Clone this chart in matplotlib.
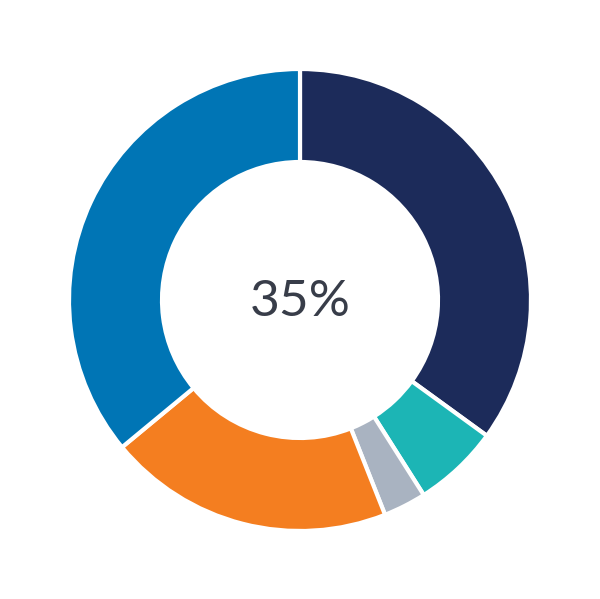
import matplotlib.pyplot as plt

# segment shares, clockwise from 12 o'clock
labels = ['Navy', 'Teal', 'Gray', 'Orange', 'Blue']
shares = [35, 6, 3, 20, 36]
colors = ['#1c2b5a', '#1cb5b5', '#a9b3c1', '#f47e20', '#0075b5']
center_label = '35%'

fig = plt.figure(figsize=(6.0, 5.99), dpi=100)
ax = fig.add_axes([0, 0, 1, 1])

ax.pie(shares, colors=colors, startangle=90, counterclock=False,
       radius=231, center=(300, 299),
       wedgeprops=dict(width=93, edgecolor='white', linewidth=3))

ax.text(300, 297, center_label, ha='center', va='center',
        fontsize=37, family=['Lato', 'DejaVu Sans'], fontweight='normal',
        color='#383d49')

ax.set_xlim(0, 600)
ax.set_ylim(0, 599)
ax.set_aspect('equal')
ax.axis('off')

fig.savefig('out.png', dpi=100, facecolor='white')
plt.close(fig)
